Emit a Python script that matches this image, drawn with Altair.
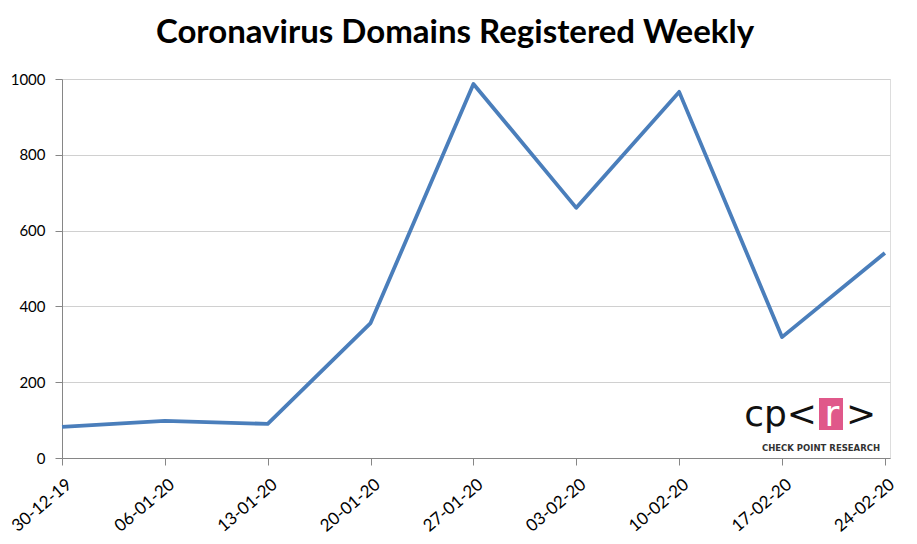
import altair as alt
import pandas as pd

labels = ["30-12-19", "06-01-20", "13-01-20", "20-01-20", "27-01-20",
          "03-02-20", "10-02-20", "17-02-20", "24-02-20"]
values = [82, 98, 90, 356, 987, 660, 966, 319, 541]

df = pd.DataFrame({"i": list(range(len(labels))), "label": labels, "v": values})

label_js = "[" + ",".join("'%s'" % l for l in labels) + "]"

W, H = 828, 379

line = alt.Chart(df).mark_line(color="#4A7EBB", strokeWidth=3.8, strokeJoin="round").encode(
    x=alt.X("i:Q",
            scale=alt.Scale(domain=[0, 8.05], nice=False, zero=False),
            axis=alt.Axis(values=list(range(len(labels))),
                          labelExpr=label_js + "[datum.value]",
                          labelAngle=-40, labelAlign="right", labelBaseline="middle",
                          labelFont="Lato", labelFontSize=17, labelColor="#000000",
                          labelPadding=17, labelOffset=7, tickSize=7, tickColor="#868686",
                          domainColor="#868686", grid=False, title=None,
                          labelOverlap=False, labelFlush=False, labelBound=False)),
    y=alt.Y("v:Q",
            scale=alt.Scale(domain=[0, 1000], nice=False),
            axis=alt.Axis(values=[0, 200, 400, 600, 800, 1000], format="d",
                          labelFont="Lato", labelFontSize=15, labelColor="#000000",
                          labelPadding=10, tickSize=7, tickColor="#868686",
                          domainColor="#868686", gridColor="#D0D0D0",
                          title=None)),
)

logo_df = pd.DataFrame({"a": [0]})
base = alt.Chart(logo_df)

box = base.mark_rect(color="#E0588A").encode(
    x=alt.value(757), x2=alt.value(781), y=alt.value(319), y2=alt.value(351))
cp = base.mark_text(text="cp<", align="right", baseline="alphabetic", font="DejaVu Sans",
                    fontSize=36, color="#111111").encode(
    x=alt.value(755), y=alt.value(347))
r = base.mark_text(text="r", align="center", baseline="alphabetic", font="DejaVu Sans",
                   fontSize=36, color="#FFFFFF").encode(
    x=alt.value(770), y=alt.value(347))
gt = base.mark_text(text=">", align="left", baseline="alphabetic", font="DejaVu Sans",
                    fontSize=36, color="#111111").encode(
    x=alt.value(784), y=alt.value(347))
cpr = base.mark_text(text="CHECK POINT RESEARCH", align="center", baseline="middle",
                     font="DejaVu Sans", fontSize=8.5, fontWeight="bold", color="#333333").encode(
    x=alt.value(759), y=alt.value(369))

chart = alt.layer(line, box, cp, r, gt, cpr).properties(
    width=W, height=H,
    autosize=alt.AutoSizeParams(type="none"),
    padding={"left": 54, "top": 71, "right": 19, "bottom": 78},
    title=alt.TitleParams("Coronavirus Domains Registered Weekly", font="Lato",
                          fontSize=33, fontWeight="bold", color="#000000",
                          anchor="middle", frame="group", dx=-21, offset=22),
).configure_view(stroke=None).configure(background="white")

chart.save("out.html", embed_options={"renderer": "svg", "actions": False})
